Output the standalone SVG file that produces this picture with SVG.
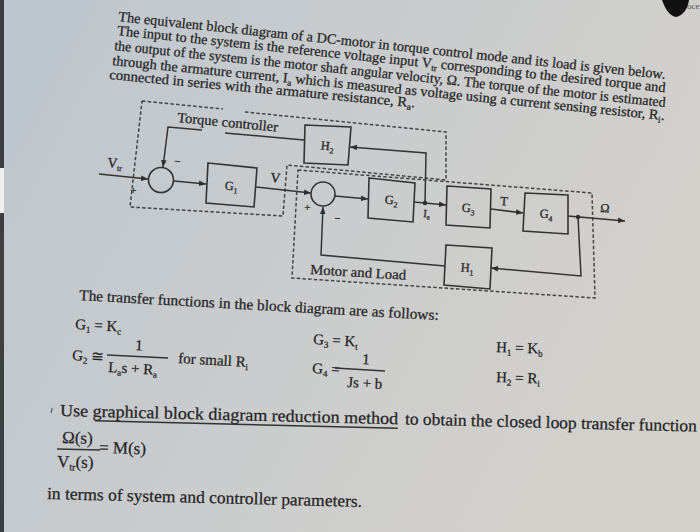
<svg xmlns="http://www.w3.org/2000/svg" width="700" height="532" viewBox="0 0 700 532">
<defs>
<linearGradient id="paper" x1="0" y1="0.3" x2="1" y2="0.7">
<stop offset="0" stop-color="#bfc7ce"/>
<stop offset="0.45" stop-color="#cacccd"/>
<stop offset="1" stop-color="#d4d1cb"/>
</linearGradient>
<marker id="ah" viewBox="0 0 10 10" refX="10" refY="5" markerWidth="7" markerHeight="7" markerUnits="userSpaceOnUse" orient="auto">
<path d="M0,1 L10,5 L0,9 Z" fill="#2e2e2e"/>
</marker>
</defs>
<style>
text{font-family:"Liberation Serif","Times New Roman",serif;fill:#222;stroke:#2a2a2a;stroke-width:0.25}
.p{font-size:14px}
.q{font-size:15px}
.r{font-size:17px}
.blk{fill:none;stroke:#333;stroke-width:1.6}
.ln{fill:none;stroke:#333;stroke-width:1.5}
.arr{marker-end:url(#ah)}
.dash{fill:none;stroke:#444;stroke-width:1.5;stroke-dasharray:3.5 2.2}
.lbl{font-size:12.5px;text-anchor:middle}
.sg{font-size:11px;text-anchor:middle}
</style>
<rect width="700" height="532" fill="url(#paper)"/>
<rect x="0" y="0" width="4" height="168" fill="#3c3f42"/>
<rect x="0" y="168" width="4" height="45" fill="#eceeef"/>
<rect x="0" y="213" width="4" height="319" fill="#3c3f42"/>
<path d="M662,0 L689,0 C688,8 683,16 676,17 C669,16 665,8 662,0 Z" fill="#111"/>
<text x="687" y="9" style="font-size:9px;fill:#555;stroke:none">oce</text>

<!-- top paragraph -->
<g id="intro">
<text class="p" transform="translate(118,21) rotate(6.05)" textLength="550" lengthAdjust="spacingAndGlyphs">The equivalent block diagram of a DC-motor in torque control mode and its load is given below.</text>
<text class="p" transform="translate(117,35) rotate(5.95)" textLength="551" lengthAdjust="spacingAndGlyphs">The input to the system is the reference voltage input V<tspan font-size="9" dy="3">tr</tspan><tspan dy="-3"> corresponding to the desired torque and</tspan></text>
<text class="p" transform="translate(114,50) rotate(5.9)" textLength="554" lengthAdjust="spacingAndGlyphs">the output of the system is the motor shaft angular velocity, Ω. The torque of the motor is estimated</text>
<text class="p" transform="translate(112,65) rotate(5.7)" textLength="555" lengthAdjust="spacingAndGlyphs">through the armature current, I<tspan font-size="9" dy="3">a</tspan><tspan dy="-3"> which is measured as voltage using a current sensing resistor, R</tspan><tspan font-size="9" dy="3">i</tspan><tspan dy="-3">.</tspan></text>
<text class="p" transform="translate(109,79) rotate(5.3)" textLength="307" lengthAdjust="spacingAndGlyphs">connected in series with the armature resistance, R<tspan font-size="9" dy="3">a</tspan><tspan dy="-3">.</tspan></text>
</g>

<!-- diagram -->
<g id="torque-controller">
<path class="dash" d="M142,101 L223,109 M245,112 L446,132 L446,180 L287,165 L283,216 L130,207 L142,101"/>
<text class="p" transform="translate(177,122) rotate(5.5)" textLength="101" lengthAdjust="spacingAndGlyphs">Torque controller</text>
</g>
<g id="motor-and-load">
<path class="dash" d="M298,170 L592,193 L595,298 L292,278 Z"/>
<text class="p" transform="translate(310,274) rotate(3.4)" textLength="96" lengthAdjust="spacingAndGlyphs">Motor and Load</text>
</g>

<g id="sum1"><circle class="blk" cx="161" cy="180" r="12.5"/>
<text class="sg" transform="translate(133,194) rotate(5)">+</text>
<text class="sg" transform="translate(177,165) rotate(5)">−</text></g>
<g id="sum2"><circle class="blk" cx="323" cy="194" r="12"/>
<text class="sg" transform="translate(307,211) rotate(5)">+</text>
<text class="sg" transform="translate(337,222) rotate(5)">−</text></g>

<g id="G1"><path class="blk" d="M208,163 L257,168 L254,207 L206,203 Z"/>
<text class="lbl" transform="translate(231,190) rotate(5)">G<tspan font-size="8" dy="3">1</tspan></text></g>
<g id="H2"><path class="blk" d="M305,125 L351,127 L348,165 L304,163 Z"/>
<text class="lbl" transform="translate(327,150) rotate(5)">H<tspan font-size="8" dy="3">2</tspan></text></g>
<g id="G2"><path class="blk" d="M369,178 L415,183 L413,222 L368,218 Z"/>
<text class="lbl" transform="translate(391,204) rotate(5)">G<tspan font-size="8" dy="3">2</tspan></text></g>
<g id="G3"><path class="blk" d="M447,186 L491,189 L490,228 L446,225 Z"/>
<text class="lbl" transform="translate(468,212) rotate(5)">G<tspan font-size="8" dy="3">3</tspan></text></g>
<g id="G4"><path class="blk" d="M525,193 L568,195 L568,234 L523,231 Z"/>
<text class="lbl" transform="translate(546,218) rotate(4)">G<tspan font-size="8" dy="3">4</tspan></text></g>
<g id="H1"><path class="blk" d="M446,245 L492,248 L490,289 L444,285 Z"/>
<text class="lbl" transform="translate(467,272) rotate(4)">H<tspan font-size="8" dy="3">1</tspan></text></g>

<g id="connectors">
<path class="ln arr" d="M99,174 L148,179"/>
<path class="ln arr" d="M174,181 L206,184"/>
<path class="ln arr" d="M256,187 L311,193"/>
<path class="ln arr" d="M335,196 L368,199"/>
<path class="ln arr" d="M414,202 L446,205"/>
<path class="ln arr" d="M425,203 L426,153 L350,147"/>
<path class="ln" d="M304,140 L225,133"/>
<path class="ln arr" d="M202,130 L168,127 L163,167"/>
<path class="ln arr" d="M491,209 L523,213"/>
<path class="ln arr" d="M568,216 L625,221"/>
<path class="ln arr" d="M578,217 L581,276 L491,268"/>
<path class="ln arr" d="M445,266 L321,255 L323,207"/>
<circle cx="425" cy="203" r="2.2" fill="#2e2e2e"/>
<circle cx="578" cy="217" r="2.2" fill="#2e2e2e"/>
<text class="p" transform="translate(107,167) rotate(5)">V<tspan font-size="8" dy="3">tr</tspan></text>
<text class="p" transform="translate(270,182) rotate(5)">V</text>
<text style="font-size:11px" transform="translate(423,217) rotate(5)">I<tspan font-size="7" dy="2">a</tspan></text>
<text style="font-size:12.5px" transform="translate(500,205) rotate(4)">T</text>
<text style="font-size:12.5px" transform="translate(600,212) rotate(4)">Ω</text>
</g>

<!-- transfer functions -->
<g id="transfer-functions">
<text class="q" transform="translate(79,300) rotate(3.2)" textLength="360" lengthAdjust="spacingAndGlyphs">The transfer functions in the block diagram are as follows:</text>
<text class="q" transform="translate(75,329) rotate(3.3)">G<tspan font-size="9" dy="3">1</tspan><tspan dy="-3"> = K</tspan><tspan font-size="9" dy="3">c</tspan></text>
<text class="q" transform="translate(313,344) rotate(3.3)">G<tspan font-size="9" dy="3">3</tspan><tspan dy="-3"> = K</tspan><tspan font-size="9" dy="3">t</tspan></text>
<text class="q" transform="translate(72,360) rotate(3.3)">G<tspan font-size="9" dy="3">2</tspan><tspan dy="-3"> ≅</tspan></text>
<text class="q" transform="translate(135,350) rotate(3.3)">1</text>
<path class="ln" d="M107,355 L168,358" stroke-width="1.1"/>
<text class="q" transform="translate(108,372) rotate(3.3)">L<tspan font-size="9" dy="3">a</tspan><tspan dy="-3">s + R</tspan><tspan font-size="9" dy="3">a</tspan></text>
<text class="q" transform="translate(178,363) rotate(3.3)">for small R<tspan font-size="9" dy="3">i</tspan></text>
<text class="q" transform="translate(312,373) rotate(3.3)">G<tspan font-size="9" dy="3">4</tspan><tspan dy="-3"> =</tspan></text>
<text class="q" transform="translate(362,364) rotate(3.3)">1</text>
<path class="ln" d="M335,368 L385,371" stroke-width="1.1"/>
<text class="q" transform="translate(347,387) rotate(3.3)">Js + b</text>
<text class="q" transform="translate(496,352) rotate(2)">H<tspan font-size="9" dy="3">1</tspan><tspan dy="-3"> = K</tspan><tspan font-size="9" dy="3">b</tspan></text>
<text class="q" transform="translate(496,382) rotate(2)">H<tspan font-size="9" dy="3">2</tspan><tspan dy="-3"> = R</tspan><tspan font-size="9" dy="3">i</tspan></text>
</g>

<!-- question -->
<g id="question">
<g transform="translate(60,416) rotate(1.4)">
<text class="r" x="0" y="0" textLength="338" lengthAdjust="spacingAndGlyphs">Use graphical block diagram reduction method</text>
<path class="ln" d="M35,4 L338,4" stroke-width="1.2"/>
<text class="r" x="345" y="0" textLength="292" lengthAdjust="spacingAndGlyphs">to obtain the closed loop transfer function</text>
<path d="M-8,-8 L-9,-3" stroke="#444" stroke-width="1"/>
</g>
<text class="r" transform="translate(62,443) rotate(1.5)">Ω(s)</text>
<path class="ln" d="M57,449 L100,450" stroke-width="1.1"/>
<text class="r" transform="translate(57,467) rotate(1.5)">V<tspan font-size="10" dy="3">tr</tspan><tspan dy="-3">(s)</tspan></text>
<text class="r" transform="translate(99,453) rotate(1.5)">= M(s)</text>
<text class="r" transform="translate(47,499) rotate(1.45)" textLength="315" lengthAdjust="spacingAndGlyphs">in terms of system and controller parameters.</text>
</g>
</svg>
